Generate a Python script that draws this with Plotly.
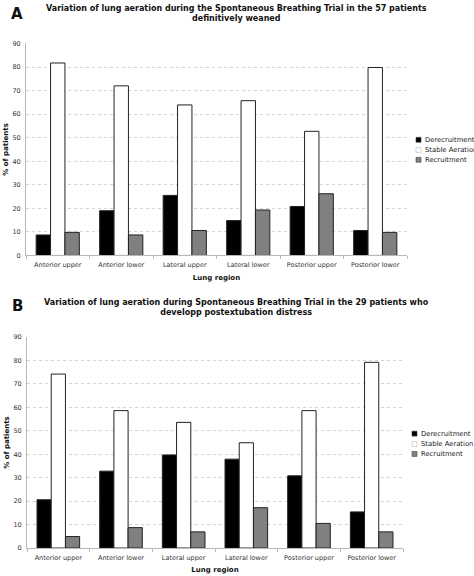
import plotly.graph_objects as go

regions = ["Anterior upper", "Anterior lower", "Lateral upper", "Lateral lower",
           "Posterior upper", "Posterior lower"]
series_names = ["Derecruitment", "Stable Aeration", "Recruitment"]

a_derecruitment = [8.7, 19.0, 25.5, 14.8, 20.8, 10.6]
a_stable = [81.7, 72.0, 63.9, 65.7, 52.7, 79.8]
a_recruitment = [9.8, 8.7, 10.6, 19.3, 26.2, 9.8]

b_derecruitment = [20.6, 32.8, 39.7, 37.9, 30.8, 15.4]
b_stable = [74.2, 58.6, 53.6, 44.9, 58.6, 79.2]
b_recruitment = [4.9, 8.7, 6.9, 17.2, 10.5, 6.9]

y_ticks = [0, 10, 20, 30, 40, 50, 60, 70, 80, 90]

title_a = "Variation of lung aeration during the Spontaneous Breathing Trial in the 57 patients<br>definitively weaned"
title_b = "Variation of lung aeration during Spontaneous Breathing Trial in the 29 patients who<br>developp postextubation distress"

colors = ["#000000", "#ffffff", "#808080"]
FONT = "DejaVu Sans"
W, H = 474, 576


def px(x):
    return x / W


def py(y):
    return 1 - y / H


fig = go.Figure()

panels = [
    ("x", "y", [a_derecruitment, a_stable, a_recruitment]),
    ("x2", "y2", [b_derecruitment, b_stable, b_recruitment]),
]
for xa, ya, vals in panels:
    for name, v, c in zip(series_names, vals, colors):
        fig.add_trace(go.Bar(
            x=regions, y=v, name=name, xaxis=xa, yaxis=ya, showlegend=False,
            marker=dict(color=c, line=dict(color="#222222", width=1)),
            hoverinfo="x+y+name",
        ))

tickfont = dict(family=FONT, size=6.5, color="#333333")
titlefont = dict(family=FONT, size=7, color="#111111")


def xaxis(dom, anchor):
    return dict(domain=dom, anchor=anchor, ticks="outside", ticklen=3,
                tickcolor="#b8b8b8", tickson="boundaries", tickangle=0,
                ticklabelstandoff=3,
                showline=True, linecolor="#b8b8b8", linewidth=1,
                tickfont=tickfont,
                title=dict(text="<b>Lung region</b>", font=titlefont, standoff=6))


def yaxis(dom, anchor):
    return dict(domain=dom, anchor=anchor, range=[0, 90], tickvals=y_ticks,
                showgrid=True, gridcolor="#d4d4d4", griddash="dot", gridwidth=1,
                zeroline=False, ticks="outside", ticklen=3, tickcolor="rgba(0,0,0,0)",
                showline=True, linecolor="#b8b8b8", linewidth=1,
                tickfont=tickfont,
                title=dict(text="<b>% of patients</b>", font=titlefont, standoff=2))


annotations = [
    dict(text="<b>A</b>", x=px(16.5), y=py(10), xref="paper", yref="paper",
         xanchor="center", yanchor="middle", showarrow=False,
         font=dict(family=FONT, size=15, color="#111111")),
    dict(text="<b>" + title_a + "</b>", x=px(236), y=py(9.5), xref="paper", yref="paper",
         xanchor="center", yanchor="middle", showarrow=False,
         font=dict(family=FONT, size=8, color="#111111")),
    dict(text="<b>B</b>", x=px(17.5), y=py(306.7), xref="paper", yref="paper",
         xanchor="center", yanchor="middle", showarrow=False,
         font=dict(family=FONT, size=15, color="#111111")),
    dict(text="<b>" + title_b + "</b>", x=px(236), y=py(308.2), xref="paper", yref="paper",
         xanchor="center", yanchor="middle", showarrow=False,
         font=dict(family=FONT, size=8, color="#111111")),
]
shapes = []

# Legends (drawn as swatches + labels)
legend_specs = [
    (416, 422.5, [137.7, 148, 158]),
    (412, 418.5, [435.7, 446.3, 456.3]),
]
for sx, tx, rows in legend_specs:
    for name, c, yy in zip(series_names, colors, rows):
        shapes.append(dict(type="rect", xref="paper", yref="paper",
                           x0=px(sx), x1=px(sx + 5), y0=py(yy + 2.5), y1=py(yy - 2.5),
                           fillcolor=c, line=dict(color="#444444" if c != "#ffffff" else "#bbbbbb", width=0.6)))
        annotations.append(dict(text=name, x=px(tx), y=py(yy), xref="paper", yref="paper",
                                xanchor="left", yanchor="middle", showarrow=False,
                                font=dict(family=FONT, size=6.8, color="#222222")))

fig.update_layout(
    width=W, height=H,
    margin=dict(l=0, r=0, t=0, b=0),
    paper_bgcolor="white", plot_bgcolor="white",
    barmode="group", bargap=0.32, bargroupgap=0,
    font=dict(family=FONT, color="#222222"),
    xaxis=xaxis([px(26), px(407)], "y"),
    yaxis=yaxis([py(255), py(40)], "x"),
    xaxis2=xaxis([px(27), px(403)], "y2"),
    yaxis2=yaxis([py(551.7), py(337.7)], "x2"),
    annotations=annotations,
    shapes=shapes,
)

fig.write_html("out.html", config={"displayModeBar": False},
               post_script="document.body.style.margin='0';")
